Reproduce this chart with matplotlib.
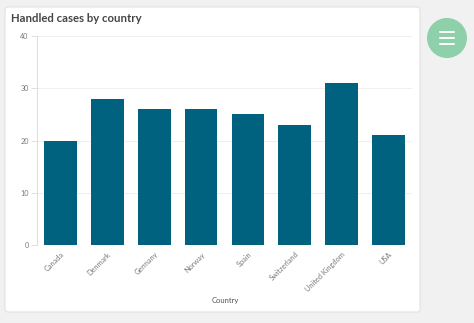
import matplotlib.pyplot as plt
from matplotlib.patches import FancyBboxPatch, Circle
import matplotlib.transforms as mtransforms
import numpy as np

plt.rcParams["font.family"] = ["Lato", "DejaVu Sans"]

countries = ["Canada", "Denmark", "Germany", "Norway", "Spain",
             "Switzerland", "United Kingdom", "USA"]
cases = [20, 28, 26, 26, 25, 23, 31, 21]
yticks = [0, 10, 20, 30, 40]

W, H = 474, 323
fig = plt.figure(figsize=(W / 100, H / 100), dpi=100)
fig.patch.set_facecolor("#f1f1f1")

# pixel-space background layer: card and menu button
bg = fig.add_axes([0, 0, 1, 1], zorder=-1)
bg.set_xlim(0, W)
bg.set_ylim(H, 0)
bg.axis("off")
bg.add_patch(FancyBboxPatch((5, 7), 415, 305,
                            boxstyle="round,pad=0,rounding_size=3",
                            facecolor="white", edgecolor="#e2e2e2",
                            linewidth=0.8))
bg.add_patch(Circle((447, 38), 20, facecolor="#8dd0aa", edgecolor="none"))
for dy in (-6, 0, 6):
    bg.plot([440, 454], [38 + dy] * 2, color="white", linewidth=1.4,
            solid_capstyle="round")
bg.text(11, 19, "Handled cases by country", fontsize=8.2,
        fontweight="bold", color="#454545", va="center", ha="left")
bg.text(225, 300, "Country", fontsize=5.5, color="#555555",
        ha="center", va="center")

ax = fig.add_axes([37 / W, 1 - 245 / H, 375 / W, 209 / H])
ax.set_facecolor("white")
x = np.arange(len(countries))
ax.bar(x, cases, width=0.7, color="#00627e", zorder=3)

ax.set_xlim(-0.5, len(countries) - 0.5)
ax.set_ylim(0, 40)
ax.set_yticks(yticks)
ax.set_yticklabels([str(v) for v in yticks], fontsize=5.2, color="#7a7a7a")
ax.set_xticks(x)
ax.set_xticklabels(countries, rotation=45, ha="right", rotation_mode="anchor",
                   fontsize=5.3, color="#7a7a7a")
shift = mtransforms.ScaledTranslation(8 / 100, 0, fig.dpi_scale_trans)
for lbl in ax.get_xticklabels():
    lbl.set_transform(lbl.get_transform() + shift)
ax.tick_params(axis="x", length=0, pad=4)
ax.tick_params(axis="y", length=4, color="#d8d8d8", width=0.6, pad=2)
ax.grid(axis="y", color="#ececec", linewidth=0.6, zorder=0)
for side in ["top", "right", "bottom"]:
    ax.spines[side].set_visible(False)
ax.spines["left"].set_color("#d8d8d8")
ax.spines["left"].set_linewidth(0.6)

fig.savefig("out.png", dpi=100, facecolor=fig.get_facecolor())
